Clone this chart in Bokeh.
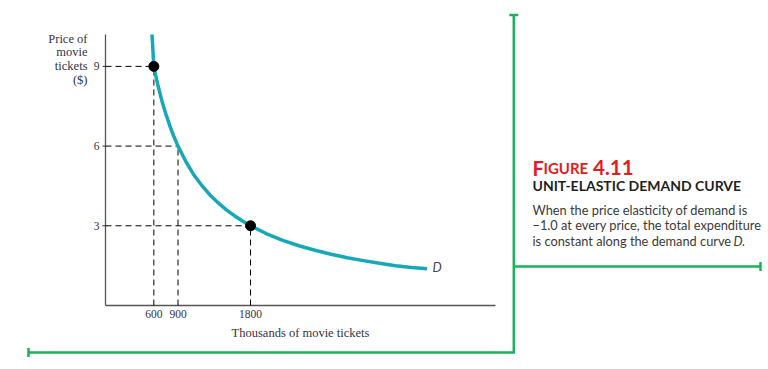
from bokeh.plotting import figure
from bokeh.models import Range1d, Label, Arrow, TeeHead
from bokeh.embed import file_html
from bokeh.resources import INLINE

# ---- data ----
quantity = [577, 585, 592, 600, 620, 650, 700, 750, 800, 850, 900, 1000, 1100,
            1200, 1300, 1400, 1500, 1600, 1700, 1800, 2000, 2200, 2400, 2600,
            2800, 3000, 3200, 3400, 3600, 3800, 3990]
price = [10.2, 9.8, 9.4, 9.0, 8.7, 8.3, 7.7, 7.2, 6.75, 6.35, 6.0, 5.4, 4.9,
         4.5, 4.15, 3.86, 3.6, 3.38, 3.18, 3.0, 2.7, 2.45, 2.25, 2.08,
         1.93, 1.8, 1.69, 1.59, 1.5, 1.43, 1.38]

guide_q = [600, 900, 1800]
guide_p = [9, 6, 3]
dot_q = [600, 1800]
dot_p = [9, 3]
x_ticks = [600, 900, 1800]
x_tick_labels = ["600", "900", "1800"]
y_ticks = [3, 6, 9]
y_tick_labels = ["3", "6", "9"]
x_max, y_max = 4840, 10.2          # extent of the drawn axes
y_title = ["Price of", "movie", "tickets", "($)"]
x_title = "Thousands of movie tickets"
curve_name = "D"
fig_word = ["F", "IGURE", "4.11"]
subtitle = "UNIT-ELASTIC DEMAND CURVE"
body = ["When the price elasticity of demand is",
        "\u22121.0 at every price, the total expenditure",
        "is constant along the demand curve"]
body_end = "D."

# ---- layout (page pixels) ----
W, H = 766, 364
AX_L, AX_R, AX_T, AX_B = 105, 495, 34, 305   # axes box in pixels
KX = (AX_R - AX_L) / x_max
KY = (AX_B - AX_T) / y_max

def dx(xs):  # pixel -> data x
    return (xs - AX_L) / KX

def dy(ys):  # pixel -> data y
    return (AX_B - ys) / KY

p = figure(width=W, height=H, x_range=Range1d(dx(0), dx(W)),
           y_range=Range1d(dy(H), dy(0)),
           output_backend="svg", toolbar_location=None,
           min_border=0)
p.outline_line_color = None
p.grid.visible = False
p.axis.visible = False
p.background_fill_color = "white"
p.border_fill_color = "white"

SERIF = "Liberation Serif"
SANS = "Lato"
TXT = "#333344"
AXC = "#555555"

# axes lines
p.segment(x0=[0, 0], y0=[0, 0], x1=[0, x_max], y1=[y_max, 0],
          line_color=AXC, line_width=1.3)
# y ticks
p.segment(x0=[dx(102)] * 3, y0=y_ticks, x1=[0] * 3, y1=y_ticks,
          line_color="#333333", line_width=1)
p.text(x=[dx(99)] * 3, y=y_ticks, text=y_tick_labels, text_font={"value": SERIF},
       text_font_size="11.5px", text_color=TXT, text_align="right",
       text_baseline="middle")
p.text(x=x_ticks, y=[dy(313)] * 3, text=x_tick_labels, text_font={"value": SERIF},
       text_font_size="11.5px", text_color=TXT, text_align="center",
       text_baseline="middle")
p.add_layout(Label(x=dx(300), y=dy(332), text=x_title, text_font=SERIF,
                   text_font_size="12.5px", text_color=TXT, text_align="center",
                   text_baseline="middle"))

# dashed guides
p.segment(x0=[0] * 3, y0=guide_p, x1=guide_q, y1=guide_p,
          line_color="black", line_width=1, line_dash="6 4")
p.segment(x0=guide_q, y0=[0] * 3, x1=guide_q, y1=guide_p,
          line_color="black", line_width=1, line_dash="6 4")

# demand curve
p.line(quantity, price, line_color="#17a8b8", line_width=3.5, line_join="round")
p.scatter(dot_q, dot_p, size=10, color="black")

p.add_layout(Label(x=dx(432), y=dy(266), text=curve_name, text_font=SANS,
                   text_font_size="13px", text_font_style="italic",
                   text_color="#444455", text_baseline="middle"))

# y title
for i, t in enumerate(y_title):
    p.add_layout(Label(x=dx(87), y=dy(38 + i * 13.7), text=t, text_font=SERIF,
                       text_font_size="12.5px", text_color=TXT,
                       text_align="right", text_baseline="middle"))

# green frame lines
G = "#1cb15a"
p.add_layout(Arrow(x_start=dx(514.5), y_start=dy(352), x_end=dx(28), y_end=dy(352),
                   start=None, end=TeeHead(size=9, line_color=G, line_width=2.5),
                   line_color=G, line_width=2.5))
p.add_layout(Arrow(x_start=dx(513.3), y_start=dy(352), x_end=dx(513.3), y_end=dy(14.5),
                   start=None, end=TeeHead(size=9, line_color=G, line_width=2.5),
                   line_color=G, line_width=2.5))
p.add_layout(Arrow(x_start=dx(513.3), y_start=dy(266), x_end=dx(760), y_end=dy(266),
                   start=None, end=TeeHead(size=9, line_color=G, line_width=2.5),
                   line_color=G, line_width=2.5))

# caption
RED = "#e31b23"
FIG_BASE = 167
p.add_layout(Label(x=dx(532), y=dy(FIG_BASE), text=fig_word[0], text_font=SANS,
                   text_font_size="20px", text_font_style="bold", text_color=RED,
                   text_baseline="alphabetic"))
p.add_layout(Label(x=dx(543), y=dy(FIG_BASE), text=fig_word[1], text_font=SANS,
                   text_font_size="15px", text_font_style="bold", text_color=RED,
                   text_baseline="alphabetic"))
p.add_layout(Label(x=dx(592.5), y=dy(FIG_BASE), text=fig_word[2], text_font=SANS,
                   text_font_size="20.5px", text_font_style="bold", text_color=RED,
                   text_baseline="alphabetic"))
p.add_layout(Label(x=dx(532), y=dy(185), text=subtitle, text_font=SANS,
                   text_font_size="14px", text_font_style="bold", text_color="#231f20",
                   text_baseline="alphabetic"))
BODY_BASE, BODY_STEP = 209, 15.5
for i, t in enumerate(body):
    p.add_layout(Label(x=dx(532), y=dy(BODY_BASE + i * BODY_STEP), text=t, text_font=SANS,
                       text_font_size="12.8px", text_color="#3a3a3a",
                       text_baseline="alphabetic"))
p.add_layout(Label(x=dx(733), y=dy(BODY_BASE + 2 * BODY_STEP), text=body_end, text_font=SANS,
                   text_font_size="12.8px", text_font_style="italic", text_color="#3a3a3a",
                   text_baseline="alphabetic"))

open("out.html", "w").write(file_html(p, INLINE))
